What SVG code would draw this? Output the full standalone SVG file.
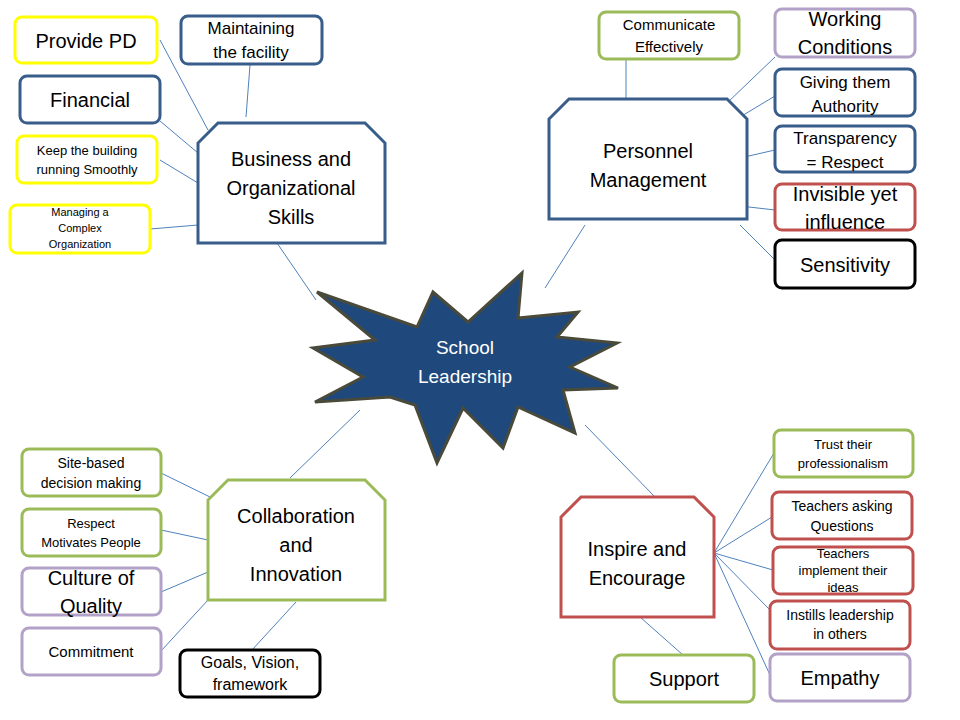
<svg xmlns="http://www.w3.org/2000/svg" width="960" height="720" viewBox="0 0 960 720">
<style>
text{font-family:"Liberation Sans","DejaVu Sans",sans-serif;fill:#000;text-anchor:middle}
.leaf{fill:#fff;stroke-width:3}
.main{fill:#fff;stroke-width:3}
.y{stroke:#ffff00}.b{stroke:#385d8a}.g{stroke:#9bbb59}.p{stroke:#b3a2c7}.r{stroke:#c0504d}.k{stroke:#000}
#connectors line{stroke:#4f81bd;stroke-width:1}
</style>
<rect width="960" height="720" fill="#fff"/>
<g id="connectors">
<line x1="160" y1="40" x2="208" y2="130"/>
<line x1="250" y1="65" x2="246" y2="117"/>
<line x1="160" y1="121" x2="198" y2="153"/>
<line x1="160" y1="160" x2="198" y2="183"/>
<line x1="150" y1="229" x2="198" y2="225"/>
<line x1="277" y1="243" x2="316" y2="300"/>
<line x1="626" y1="59" x2="626" y2="99"/>
<line x1="727" y1="103" x2="775" y2="57"/>
<line x1="740" y1="117" x2="775" y2="96"/>
<line x1="740" y1="158" x2="775" y2="150"/>
<line x1="740" y1="206" x2="775" y2="210"/>
<line x1="740" y1="225" x2="775" y2="260"/>
<line x1="585" y1="225" x2="545" y2="288"/>
<line x1="360" y1="410" x2="290" y2="478"/>
<line x1="161" y1="473" x2="210" y2="497"/>
<line x1="161" y1="530" x2="208" y2="540"/>
<line x1="161" y1="592" x2="208" y2="572"/>
<line x1="161" y1="651" x2="208" y2="600"/>
<line x1="296" y1="602" x2="252" y2="650"/>
<line x1="585" y1="425" x2="655" y2="497"/>
<line x1="714" y1="553" x2="774" y2="453"/>
<line x1="714" y1="553" x2="772" y2="517"/>
<line x1="714" y1="553" x2="773" y2="570"/>
<line x1="714" y1="553" x2="770" y2="610"/>
<line x1="714" y1="553" x2="770" y2="675"/>
<line x1="640" y1="617" x2="683" y2="655"/>
</g>
<g id="center">
<polygon points="317,292 417,327 433,292 468,322 522,273 518,318 578,312 557,337 617,343 570,367 618,388 563,390 575,433 518,407 503,448 463,408 437,463 415,405 390,397 315,402 363,377 313,348 375,340" fill="#1f497d" stroke="#4a4a3a" stroke-width="3" stroke-linejoin="miter"/>
<text x="465" y="354" font-size="19" style="fill:#fff">School</text>
<text x="465" y="383" font-size="19" style="fill:#fff">Leadership</text>
</g>
<g id="business"><path class="main b" d="M218,123 H365 L385,143 V243 H198 V143 Z"/>
<text x="291" y="166" font-size="20">Business and</text><text x="291" y="195" font-size="20">Organizational</text><text x="291" y="224" font-size="20">Skills</text></g>
<g id="personnel"><path class="main b" d="M569,99 H727 L747,119 V219 H549 V119 Z"/>
<text x="648" y="158" font-size="20">Personnel</text><text x="648" y="187" font-size="20">Management</text></g>
<g id="collab"><path class="main g" d="M228,480 H365 L385,500 V600 H208 V500 Z"/>
<text x="296" y="523" font-size="20">Collaboration</text><text x="296" y="552" font-size="20">and</text><text x="296" y="581" font-size="20">Innovation</text></g>
<g id="inspire"><path class="main r" d="M581,497 H694 L714,517 V617 H561 V517 Z"/>
<text x="637" y="556" font-size="20">Inspire and</text><text x="637" y="585" font-size="20">Encourage</text></g>
<g id="providepd"><rect class="leaf y" x="15" y="17" width="142" height="46" rx="7"/><text x="86" y="48" font-size="20">Provide PD</text></g>
<g id="maintaining"><rect class="leaf b" x="181" y="16" width="141" height="48" rx="7"/><text x="251" y="34" font-size="17">Maintaining</text><text x="251" y="58" font-size="17">the facility</text></g>
<g id="financial"><rect class="leaf b" x="20" y="76" width="140" height="47" rx="7"/><text x="90" y="107" font-size="20">Financial</text></g>
<g id="keep"><rect class="leaf y" x="17" y="136" width="140" height="47" rx="7"/><text x="87" y="155" font-size="13">Keep the building</text><text x="87" y="174" font-size="13">running Smoothly</text></g>
<g id="managing"><rect class="leaf y" x="10" y="205" width="140" height="48" rx="7"/><text x="80" y="216" font-size="11">Managing a</text><text x="80" y="232" font-size="11">Complex</text><text x="80" y="248" font-size="11">Organization</text></g>
<g id="communicate"><rect class="leaf g" x="599" y="12" width="140" height="47" rx="7"/><text x="669" y="30" font-size="15">Communicate</text><text x="669" y="52" font-size="15">Effectively</text></g>
<g id="working"><rect class="leaf p" x="775" y="9" width="140" height="48" rx="7"/><text x="845" y="26" font-size="20">Working</text><text x="845" y="54" font-size="20">Conditions</text></g>
<g id="giving"><rect class="leaf b" x="775" y="69" width="140" height="47" rx="7"/><text x="845" y="88" font-size="17">Giving them</text><text x="845" y="112" font-size="17">Authority</text></g>
<g id="transparency"><rect class="leaf b" x="775" y="126" width="140" height="46" rx="7"/><text x="845" y="144" font-size="17">Transparency</text><text x="845" y="168" font-size="17">= Respect</text></g>
<g id="invisible"><rect class="leaf r" x="775" y="184" width="140" height="46" rx="7"/><text x="845" y="201" font-size="20">Invisible yet</text><text x="845" y="229" font-size="20">influence</text></g>
<g id="sensitivity"><rect class="leaf k" x="775" y="240" width="140" height="48" rx="7"/><text x="845" y="272" font-size="20">Sensitivity</text></g>
<g id="site"><rect class="leaf g" x="22" y="449" width="139" height="47" rx="7"/><text x="91" y="468" font-size="14">Site-based</text><text x="91" y="488" font-size="14">decision making</text></g>
<g id="respect"><rect class="leaf g" x="22" y="509" width="139" height="47" rx="7"/><text x="91" y="528" font-size="13">Respect</text><text x="91" y="547" font-size="13">Motivates People</text></g>
<g id="culture"><rect class="leaf p" x="22" y="568" width="139" height="47" rx="7"/><text x="91" y="585" font-size="20">Culture of</text><text x="91" y="613" font-size="20">Quality</text></g>
<g id="commitment"><rect class="leaf p" x="22" y="628" width="139" height="47" rx="7"/><text x="91" y="657" font-size="15">Commitment</text></g>
<g id="goals"><rect class="leaf k" x="180" y="650" width="140" height="47" rx="7"/><text x="250" y="668" font-size="16">Goals, Vision,</text><text x="250" y="690" font-size="16">framework</text></g>
<g id="trust"><rect class="leaf g" x="774" y="430" width="139" height="47" rx="7"/><text x="843" y="449" font-size="13">Trust their</text><text x="843" y="468" font-size="13">professionalism</text></g>
<g id="asking"><rect class="leaf r" x="772" y="492" width="140" height="47" rx="7"/><text x="842" y="511" font-size="14">Teachers asking</text><text x="842" y="531" font-size="14">Questions</text></g>
<g id="implement"><rect class="leaf r" x="773" y="547" width="140" height="47" rx="7"/><text x="843" y="558" font-size="13">Teachers</text><text x="843" y="575" font-size="13">implement their</text><text x="843" y="592" font-size="13">ideas</text></g>
<g id="instills"><rect class="leaf r" x="770" y="601" width="140" height="48" rx="7"/><text x="840" y="620" font-size="14">Instills leadership</text><text x="840" y="639" font-size="14">in others</text></g>
<g id="empathy"><rect class="leaf p" x="770" y="654" width="140" height="47" rx="7"/><text x="840" y="685" font-size="20">Empathy</text></g>
<g id="support"><rect class="leaf g" x="614" y="655" width="140" height="47" rx="7"/><text x="684" y="686" font-size="20">Support</text></g>
</svg>
